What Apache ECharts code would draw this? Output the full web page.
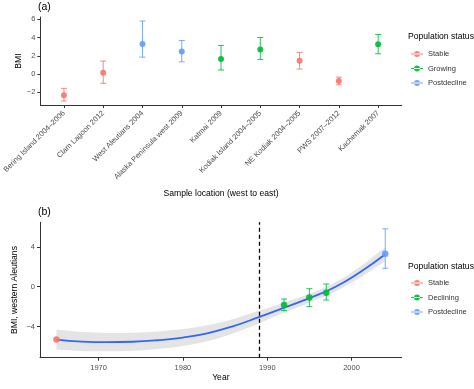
<!DOCTYPE html>
<html>
<head>
<meta charset="utf-8">
<script src="https://cdn.jsdelivr.net/npm/echarts@6/dist/echarts.min.js"></script>
<style>html,body{margin:0;padding:0;background:#fff;}#main{width:474px;height:389px;}</style>
</head>
<body>
<div id="main"></div>
<script>
// ---------- Panel (a) data ----------
const categories = ['Bering Island 2004\u20132006', 'Clam Lagoon 2012', 'West Aleutians 2004',
  'Alaska Peninsula west 2009', 'Katmai 2009', 'Kodiak Island 2004\u20132005',
  'NE Kodiak 2004\u20132005', 'PWS 2007\u20132012', 'Kachemak 2007'];
const bmiMean = [-2.30, 0.15, 3.30, 2.47, 1.64, 2.69, 1.45, -0.76, 3.27];
const bmiLow  = [-2.94, -1.00, 1.85, 1.34, 0.44, 1.60, 0.55, -1.17, 2.22];
const bmiHigh = [-1.56, 1.42, 5.80, 3.67, 3.13, 4.00, 2.37, -0.33, 4.33];
const statusA = ['Stable', 'Stable', 'Postdecline', 'Postdecline', 'Growing', 'Growing', 'Stable', 'Stable', 'Growing'];
const legendA = ['Stable', 'Growing', 'Postdecline'];
const yTicksA = [-2, 0, 2, 4, 6];

// ---------- Panel (b) data ----------
const years   = [1965, 1992, 1995, 1997, 2004];
const westBmi = [-5.30, -1.83, -1.07, -0.60, 3.30];
const westLow = [null, -2.40, -2.00, -1.33, 1.85];
const westHigh= [null, -1.23, -0.20, 0.27, 5.80];
const statusB = ['Stable', 'Declining', 'Declining', 'Declining', 'Postdecline'];
const legendB = ['Stable', 'Declining', 'Postdecline'];
const fitYears = [1965, 1968, 1971, 1974, 1977, 1980, 1983, 1986, 1989, 1992, 1995, 1998, 2001, 2004];
const fitValue = [-5.30, -5.50, -5.56, -5.52, -5.37, -5.10, -4.65, -3.95, -3.05, -2.10, -1.15, -0.05, 1.45, 3.25];
const bandHigh = [-4.30, -4.55, -4.64, -4.62, -4.49, -4.25, -3.85, -3.23, -2.42, -1.58, -0.70, 0.40, 2.00, 3.95];
const bandLow  = [-6.30, -6.45, -6.48, -6.42, -6.25, -5.95, -5.45, -4.67, -3.68, -2.62, -1.60, -0.50, 0.90, 2.55];
const cutoffYear = 1989;
const xTicksB = [1970, 1980, 1990, 2000];
const yTicksB = [-4, 0, 4];

const colors = { Stable: '#F8766D', Growing: '#00BA38', Declining: '#00BA38', Postdecline: '#619CFF' };
const FONT = 'Liberation Sans, Arial, Helvetica, sans-serif';
const legendIcon = 'path://M0,2.5h12v1h-12z M6,0a3,3 0 1 0 0.001,0z';
const minus = v => String(v).replace('-', '\u2212');

const axisLineStyle = { onZero: false, lineStyle: { color: '#333', width: 1 } };
const tickStyle = { length: 3, lineStyle: { color: '#333', width: 1 } };
const labelStyle = { color: '#4d4d4d', fontSize: 7.5, fontFamily: FONT };
const nameStyle = { color: '#000', fontSize: 8.6, fontFamily: FONT };

function errorBarItem(params, api) {
  const x = api.value(0), lo = api.value(1), hi = api.value(2);
  const color = params.seriesName === 'errA' ? colors[statusA[params.dataIndex]] : colors[statusB[params.dataIndex]];
  if (isNaN(lo) || isNaN(hi)) return null;
  const a = api.coord([x, lo]), b = api.coord([x, hi]);
  const hw = 3;
  const st = { stroke: color, lineWidth: 1, opacity: 0.85 };
  return { type: 'group', children: [
    { type: 'line', shape: { x1: a[0], y1: a[1], x2: b[0], y2: b[1] }, style: st },
    { type: 'line', shape: { x1: a[0] - hw, y1: a[1], x2: a[0] + hw, y2: a[1] }, style: st },
    { type: 'line', shape: { x1: b[0] - hw, y1: b[1], x2: b[0] + hw, y2: b[1] }, style: st }
  ]};
}

const series = [];
// panel (a) error bars
series.push({ name: 'errA', type: 'custom', xAxisIndex: 0, yAxisIndex: 0, z: 3,
  renderItem: errorBarItem, encode: { x: 0, y: [1, 2] },
  data: categories.map((c, i) => [i + 1, bmiLow[i], bmiHigh[i]]) });
// panel (a) points
legendA.forEach(s => {
  series.push({ name: s, type: 'scatter', xAxisIndex: 0, yAxisIndex: 0, z: 4, symbolSize: 6,
    itemStyle: { color: colors[s], opacity: 0.9 },
    data: categories.map((c, i) => statusA[i] === s ? [i + 1, bmiMean[i]] : null).filter(d => d) });
});
// panel (b) confidence band (closed smooth polygon; corners doubled so the ends stay straight)
series.push({ name: 'band', type: 'custom', xAxisIndex: 1, yAxisIndex: 1, z: 1, silent: true,
  encode: { x: 0, y: [1, 2] },
  data: fitYears.map((y, i) => [y, bandLow[i], bandHigh[i]]),
  renderItem: function (params, api) {
    if (params.dataIndex !== 0) return null;
    const top = fitYears.map((y, i) => api.coord([y, bandHigh[i]]));
    const bot = fitYears.map((y, i) => api.coord([y, bandLow[i]])).reverse();
    const pts = [top[0]].concat(top, [top[top.length - 1]], [bot[0]], bot, [bot[bot.length - 1]]);
    return { type: 'polygon', shape: { points: pts, smooth: 0.35 }, style: { fill: '#e4e4e4', stroke: 'none' } };
  } });
// panel (b) fit line
series.push({ name: 'fit', type: 'line', xAxisIndex: 1, yAxisIndex: 1, z: 2, smooth: true, showSymbol: false,
  symbol: 'none', lineStyle: { color: '#3366FF', width: 1.8 },
  data: fitYears.map((y, i) => [y, fitValue[i]]),
  markLine: { silent: true, symbol: 'none', label: { show: false },
    lineStyle: { color: '#000', type: [4, 3], width: 1.3 }, data: [{ xAxis: cutoffYear }] } });
// panel (b) error bars
series.push({ name: 'errB', type: 'custom', xAxisIndex: 1, yAxisIndex: 1, z: 3,
  renderItem: errorBarItem, encode: { x: 0, y: [1, 2] },
  data: years.map((y, i) => [y, westLow[i] === null ? '-' : westLow[i], westHigh[i] === null ? '-' : westHigh[i]]) });
// panel (b) points
legendB.forEach(s => {
  series.push({ name: s, type: 'scatter', xAxisIndex: 1, yAxisIndex: 1, z: 4, symbolSize: 6.5,
    itemStyle: { color: colors[s], opacity: 0.9 },
    data: years.map((y, i) => statusB[i] === s ? [y, westBmi[i]] : null).filter(d => d) });
});

const legendCommon = { orient: 'vertical', padding: 0, itemWidth: 12, itemHeight: 6, itemGap: 6.5,
  icon: legendIcon, textStyle: { color: '#333', fontSize: 7.5, fontFamily: FONT }, selectedMode: false };

const option = {
  animation: false,
  backgroundColor: '#fff',
  title: [
    { text: '(a)', left: 38, top: 2, padding: 0, textStyle: { fontSize: 10.5, fontWeight: 'normal', color: '#000', fontFamily: FONT } },
    { text: '(b)', left: 38, top: 207, padding: 0, textStyle: { fontSize: 10.5, fontWeight: 'normal', color: '#000', fontFamily: FONT } },
    { text: 'Population status', left: 408, top: 32, padding: 0, textStyle: { fontSize: 8.6, fontWeight: 'normal', color: '#000', fontFamily: FONT } },
    { text: 'Population status', left: 408, top: 262, padding: 0, textStyle: { fontSize: 8.6, fontWeight: 'normal', color: '#000', fontFamily: FONT } }
  ],
  legend: [
    Object.assign({}, legendCommon, { data: legendA, left: 411, top: 50 }),
    Object.assign({}, legendCommon, { data: legendB, left: 411, top: 279 })
  ],
  grid: [
    { left: 40, right: 72.3, top: 17, height: 88 },
    { left: 40, right: 72.3, top: 222.3, height: 135.4 }
  ],
  xAxis: [
    { type: 'value', gridIndex: 0, min: 0.4, max: 9.6, splitLine: { show: false },
      axisLine: axisLineStyle, axisTick: Object.assign({ customValues: categories.map((c, i) => i + 1) }, tickStyle),
      axisLabel: Object.assign({ customValues: categories.map((c, i) => i + 1), rotate: 45, margin: 7,
        formatter: v => categories[Math.round(v) - 1] }, labelStyle),
      name: 'Sample location (west to east)', nameLocation: 'middle', nameGap: 84, nameMoveOverlap: false, nameTextStyle: nameStyle },
    { type: 'value', gridIndex: 1, min: 1963.05, max: 2005.95, splitLine: { show: false },
      axisLine: axisLineStyle, axisTick: Object.assign({ customValues: xTicksB }, tickStyle),
      axisLabel: Object.assign({ customValues: xTicksB, margin: 6, formatter: v => String(v) }, labelStyle),
      name: 'Year', nameLocation: 'middle', nameGap: 15, nameMoveOverlap: false, nameTextStyle: nameStyle }
  ],
  yAxis: [
    { type: 'value', gridIndex: 0, min: -3.377, max: 6.237, splitLine: { show: false },
      axisLine: axisLineStyle, axisTick: Object.assign({ customValues: yTicksA }, tickStyle),
      axisLabel: Object.assign({ customValues: yTicksA, margin: 5, formatter: minus }, labelStyle),
      name: 'BMI', nameLocation: 'middle', nameGap: 17.5, nameMoveOverlap: false, nameTextStyle: nameStyle },
    { type: 'value', gridIndex: 1, min: -7.12, max: 6.46, splitLine: { show: false },
      axisLine: axisLineStyle, axisTick: Object.assign({ customValues: yTicksB }, tickStyle),
      axisLabel: Object.assign({ customValues: yTicksB, margin: 5, formatter: minus }, labelStyle),
      name: 'BMI, western Aleutians', nameLocation: 'middle', nameGap: 20.5, nameMoveOverlap: false, nameTextStyle: nameStyle }
  ],
  series: series
};
const chart = echarts.init(document.getElementById('main'), null, { renderer: 'canvas' });
chart.setOption(option);
</script>
</body>
</html>
